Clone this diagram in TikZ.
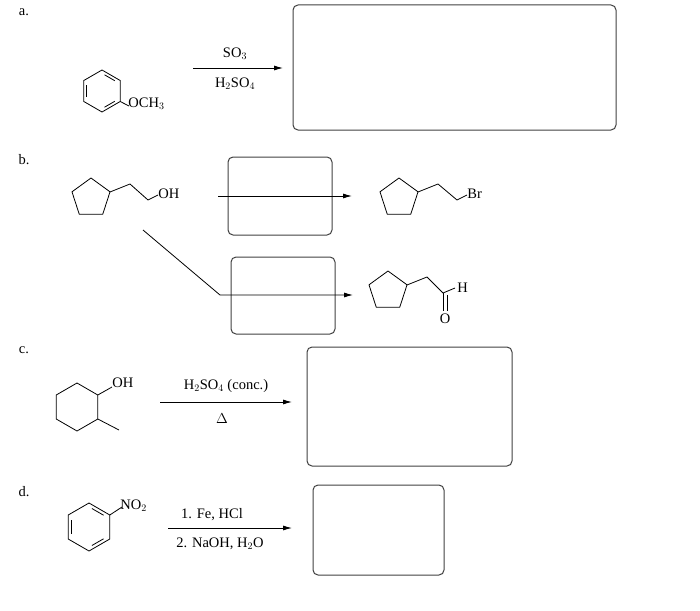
\documentclass[tikz,border=0pt]{standalone}
\usepackage{fontspec}
\setmainfont{Liberation Serif}
\usetikzlibrary{arrows.meta}
\newcommand\benzring[3]{\begin{scope}[shift={(#1,#2)}]
\draw (30:#3)--(90:#3)--(150:#3)--(210:#3)--(270:#3)--(330:#3)--cycle;
\foreach \a in {30,150,270}{\draw (\a+9:0.78*#3)--(\a+51:0.78*#3);}
\end{scope}}
\newcommand\hexring[3]{\begin{scope}[shift={(#1,#2)}]
\draw (30:#3)--(90:#3)--(150:#3)--(210:#3)--(270:#3)--(330:#3)--cycle;
\end{scope}}
\newcommand\pentring[3]{\begin{scope}[shift={(#1,#2)}]
\draw (-90:#3)--(-18:#3)--(54:#3)--(126:#3)--(198:#3)--cycle;
\end{scope}}
\begin{document}
\begin{tikzpicture}[x=1pt,y=-1pt,line width=0.8pt,
  txt/.style={inner sep=0pt,font=\fontsize{14.5}{16}\selectfont},
  rxn/.style={-{Latex[length=9pt,width=5pt]}},
  ansbox/.style={draw=black!75,rounded corners=5pt,line width=1pt}]
\useasboundingbox (0,0) rectangle (700,610);
% a
\node[txt] (la) at (24,12) {a.};
\benzring{102}{91}{21}
\draw (120.2,101.5) -- (129,106);
\node[txt,anchor=west] (och) at (128,104) {OCH$_3$};
\coordinate (a1) at (193,68); \coordinate (a2) at (283,68);
\draw[rxn] (a1) -- (a2);
\node[txt] (so3) at (235,54) {SO$_3$};
\node[txt] (h2so4) at (235,84) {H$_2$SO$_4$};
\draw[ansbox] (293,5) rectangle (616,130);
% b
\node[txt] (lb) at (24,160) {b.};
\pentring{91}{198}{20}
\draw (110,192) -- (130,184) -- (148,200) -- (158,195);
\node[txt,anchor=west] (oh1) at (158,194) {OH};
\draw[ansbox] (228,157) rectangle (332,235);
\coordinate (b1) at (218,196); \coordinate (b2) at (352,196);
\draw[rxn] (b1) -- (b2);
\pentring{399}{198}{20}
\draw (418,192) -- (438,184) -- (457,200) -- (467,195);
\node[txt,anchor=west] (br) at (467,194) {Br};
\draw[ansbox] (231,257) rectangle (335,334);
\coordinate (c0) at (143,230); \coordinate (c1) at (220,295); \coordinate (c2) at (353,295);
\draw[rxn] (c0) -- (c1) -- (c2);
\pentring{388}{291}{20}
\draw (407,285) -- (427,277) -- (443,293) -- (455,288);
\node[txt,anchor=west] (hh) at (457,288) {H};
\draw (443,293) -- (443,311); \draw (447,295) -- (447,311);
\node[txt] (oo) at (445,319) {O};
% c
\node[txt] (lc) at (24,350) {c.};
\hexring{77}{407}{24}
\draw (97.8,395) -- (112,387);
\node[txt,anchor=west] (oh2) at (112,383) {OH};
\draw (97.8,419) -- (119,430);
\coordinate (d1) at (160,402); \coordinate (d2) at (292,402);
\draw[rxn] (d1) -- (d2);
\node[txt] (cond) at (226,386) {H$_2$SO$_4$ (conc.)};
\node[txt] (delta) at (222,419) {$\Delta$};
\draw[ansbox] (307,347) rectangle (512,466);
% d
\node[txt] (ld) at (24,492) {d.};
\benzring{89}{527}{24}
\draw (109.8,515) -- (122,507);
\node[txt,anchor=west] (no2) at (120,506) {NO$_2$};
\coordinate (e1) at (168,528); \coordinate (e2) at (292,528);
\draw[rxn] (e1) -- (e2);
\node[txt] (fe) at (212,515) {1. Fe, HCl};
\node[txt] (naoh) at (220,544) {2. NaOH, H$_2$O};
\draw[ansbox] (313,485) rectangle (444,575);
\end{tikzpicture}
\end{document}
